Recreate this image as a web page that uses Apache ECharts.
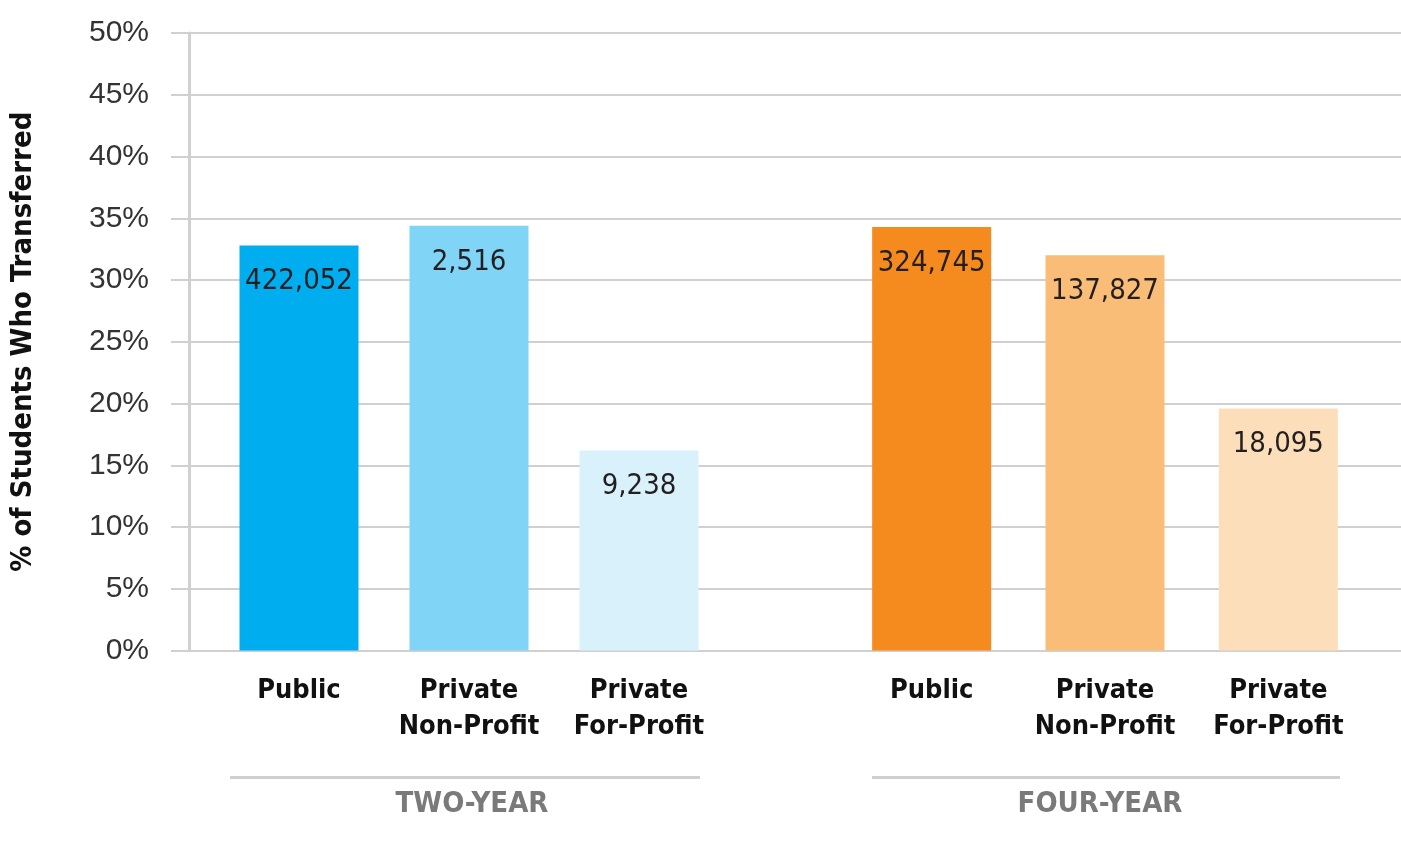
<!DOCTYPE html>
<html>
<head>
<meta charset="utf-8">
<script src="https://cdn.jsdelivr.net/npm/echarts@6/dist/echarts.min.js"></script>
<style>
html,body{margin:0;padding:0;background:#fff;}
#chart{width:1401px;height:844px;}
</style>
</head>
<body>
<div id="chart"></div>
<script>
const twoYearCategories = ['Public', 'Private\nNon-Profit', 'Private\nFor-Profit'];
const fourYearCategories = ['Public', 'Private\nNon-Profit', 'Private\nFor-Profit'];
const twoYearPercent = [32.8, 34.4, 16.2];
const fourYearPercent = [34.3, 32.0, 19.6];
const twoYearCounts = ['422,052', '2,516', '9,238'];
const fourYearCounts = ['324,745', '137,827', '18,095'];
const twoYearColors = ['#00AEEF', '#80D5F7', '#D9F1FB'];
const fourYearColors = ['#F58A1F', '#F9BD77', '#FCDFBA'];
const groupNames = ['TWO-YEAR', 'FOUR-YEAR'];
const yTicks = [0, 5, 10, 15, 20, 25, 30, 35, 40, 45, 50];

const NARROW = '"DejaVu Sans Condensed", "Liberation Sans Narrow", sans-serif';
const chart = echarts.init(document.getElementById('chart'));

const gridTop = 33, gridBottom = 193.5;

function barLabel(counts) {
  return {
    show: true,
    position: 'insideTop',
    distance: 22,
    formatter: p => counts[p.dataIndex],
    fontFamily: NARROW,
    fontSize: 29,
    color: '#231f20'
  };
}

const xLabel = {
  fontFamily: NARROW,
  fontWeight: 'bold',
  fontSize: 27,
  lineHeight: 36,
  color: '#111',
  margin: 22,
  interval: 0
};

const gridBase = { top: gridTop, bottom: gridBottom, containLabel: false, outerBoundsMode: 'none' };

chart.setOption({
  animation: false,
  grid: [
    Object.assign({ left: 189, right: 0 }, gridBase),
    Object.assign({ left: 214, width: 510 }, gridBase),
    Object.assign({ left: 845, width: 520 }, gridBase)
  ],
  xAxis: [
    { gridIndex: 0, type: 'category', data: [''], show: false },
    { gridIndex: 1, type: 'category', data: twoYearCategories,
      axisLine: { show: false }, axisTick: { show: false }, axisLabel: xLabel },
    { gridIndex: 2, type: 'category', data: fourYearCategories,
      axisLine: { show: false }, axisTick: { show: false }, axisLabel: xLabel }
  ],
  yAxis: [
    { gridIndex: 0, type: 'value', min: yTicks[0], max: yTicks[yTicks.length - 1], interval: 5,
      axisLine: { show: true, lineStyle: { color: '#d0d0d0', width: 3 } },
      axisTick: { show: true, length: 18, lineStyle: { color: '#d0d0d0', width: 2 } },
      splitLine: { show: true, lineStyle: { color: '#d0d0d0', width: 2 } },
      axisLabel: { formatter: '{value}%', fontFamily: '"Liberation Sans", Arial, sans-serif',
        fontSize: 30, color: '#333', margin: 40 },
      name: '% of Students Who Transferred',
      nameLocation: 'middle', nameRotate: 90, nameGap: 151,
      nameTextStyle: { fontFamily: NARROW, fontWeight: 'bold', fontSize: 29, color: '#111' }
    },
    { gridIndex: 1, type: 'value', min: 0, max: 50, show: false, splitLine: { show: false } },
    { gridIndex: 2, type: 'value', min: 0, max: 50, show: false, splitLine: { show: false } }
  ],
  series: [
    { type: 'bar', xAxisIndex: 1, yAxisIndex: 1, barWidth: 119,
      data: twoYearPercent.map((v, i) => ({ value: v, itemStyle: { color: twoYearColors[i] } })),
      label: barLabel(twoYearCounts) },
    { type: 'bar', xAxisIndex: 2, yAxisIndex: 2, barWidth: 119,
      data: fourYearPercent.map((v, i) => ({ value: v, itemStyle: { color: fourYearColors[i] } })),
      label: barLabel(fourYearCounts) }
  ],
  graphic: [
    { type: 'line', shape: { x1: 230, y1: 777.5, x2: 700, y2: 777.5 }, style: { stroke: '#cfcfcf', lineWidth: 3 } },
    { type: 'line', shape: { x1: 872, y1: 777.5, x2: 1340, y2: 777.5 }, style: { stroke: '#cfcfcf', lineWidth: 3 } },
    { type: 'text', x: 472, y: 804, style: { text: groupNames[0], align: 'center', verticalAlign: 'middle',
      font: 'bold 29px ' + NARROW, fill: '#7a7a7a' } },
    { type: 'text', x: 1100, y: 804, style: { text: groupNames[1], align: 'center', verticalAlign: 'middle',
      font: 'bold 29px ' + NARROW, fill: '#7a7a7a' } }
  ]
});
</script>
</body>
</html>
